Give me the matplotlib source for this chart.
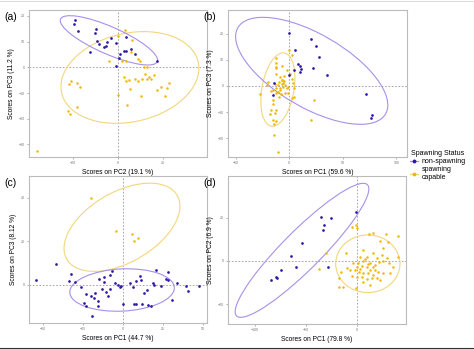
import matplotlib
matplotlib.use("Agg")
import matplotlib.pyplot as plt
from matplotlib.patches import Ellipse
from matplotlib.lines import Line2D
import numpy as np

plt.rcParams['font.family'] = ['Liberation Sans', 'DejaVu Sans']

PURPLE = '#2e1aa6'
PURPLE_ELL = '#a890e8'
YELLOW = '#f3b600'
YELLOW_ELL = '#f3d67c'

# --- panel (a): PC2 vs PC3 ---
a_non_x = [-19.3, -19.6, -17.6, -10.0, -10.4, -9.3, -8.5, -12.5, -5.1, -5.4, -6.3,
           -2.9, -0.9, 3.4, 0.7, 0.3, 2.8, 3.7, 5.7, 7.6, 17.2, -0.7]
a_non_y = [18.4, 16.9, 14.3, 14.8, 13.2, 10.3, 9.0, 6.1, 9.7, 8.3, 8.1,
           11.3, 9.4, 11.7, 5.1, 3.8, 6.4, 6.4, 7.0, 5.2, 2.5, 0.6]
a_spa_x = [2.9, 0.1, 6.3, 5.9, 8.7, 9.6, 1.8, 3.5, 11.6, 12.8, -4.1, 2.5, 3.7, 5.1,
           7.4, 10.6, 12.1, 12.8, 14.0, 14.6, 16.2, 8.7, 5.4, 10.3, 0.0, 4.0, 17.2,
           19.0, 21.9, 22.6, 20.9, -21.8, -20.7, -18.4, -16.9, -22.1, -21.3, -18.4, -36.2]
a_spa_y = [14.5, 12.0, 10.6, 5.8, 3.2, 2.6, 2.6, 2.6, 0.3, 0.3, 2.5, -3.6, -5.2, -4.9,
           -4.7, -4.5, -2.7, -4.4, -3.9, -4.4, -3.1, -5.2, -8.6, -11.0, -10.8, -14.8, -8.8,
           -7.8, -8.2, -6.2, -11.0, -6.6, -5.3, -6.0, -7.8, -17.0, -18.2, -15.3, -32.5]

# --- panel (b): PC1 vs PC3 ---
b_non_x = [0.0, 20.0, 25.0, 5.3, 27.8, 7.8, 10.3, 10.9, 10.3, 4.7, 21.9, 35.3,
           0.0, -14.4, 71.9, 77.2, 76.3, -15.6]
b_non_y = [20.4, 17.8, 15.3, 13.9, 10.9, 8.2, 7.5, 6.6, 5.4, 6.0, 7.0, 4.1,
           4.1, 1.1, -3.1, -11.0, -12.1, -3.6]
b_spa_x = [-11.9, -7.2, -11.9, -8.75, -2.5, 0.6, -4.7, -7.2, -10.3, -5.6, -8.75, -2.5,
           -4.1, -11.9, -15.6, -12.5, -9.4, -6.6, -27.5, -20.6, -15.0, -15.6, -9.4, 2.2,
           -0.9, -16.6, -12.5, -13.4, -17.5, -15.0, -12.5, -14.4, -0.9, -11.9, 0.0, 2.2,
           -11.9, 23.4, 20.0, -14.0, -10.9, 4.7, -12.5, -19.7, -17.2, -6.6, -4.7, 3.1,
           4.4, 2.8, -13.0, -9.0, -6.0, -3.5, -10.5, -7.8]
b_spa_y = [7.0, 7.5, 4.7, 3.4, 6.0, 4.7, 1.9, 0.9, 0.3, -0.4, -1.7, -1.0,
           -2.9, -2.7, -1.4, -1.0, 1.5, 2.3, -3.2, 0.3, -5.5, -6.8, -4.2, -4.5,
           -2.9, -9.3, -9.1, -10.3, -10.9, -12.9, -13.4, -14.4, -0.6, 8.8, 13.9, 11.7,
           10.5, -5.5, -12.9, -18.9, -25.3, -4.2, 7.3, 1.5, -1.9, 2.2, 3.7, 1.1,
           -0.8, 2.8, 0.8, -0.8, 1.0, 0.4, -2.2, -3.0]

# --- panel (c): PC1 vs PC3 ---
c_non_x = [-54.6, -42.1, -32.7, -34.0, -30.2, -26.5, -23.3, -24.4, -23.3, -19.8, -17.7,
           -18.1, -15.6, -16.0, -19.2, -15.0, -12.1, -11.9, -12.9, -10.8, -9.4, -8.3,
           -6.7, -8.3, -5.2, -3.1, -2.1, -1.5, 0.0, 4.2, 6.3, 7.9, 10.4, 11.0, 7.9, 6.9,
           14.6, 13.1, 11.5, 15.2, 17.1, 18.8, 19.2, 20.4, 23.5, 26.7, 28.1, 27.7, 30.2,
           33.3, 39.2, 40.6, 47.3]
c_non_y = [2.0, 9.6, 4.9, 1.8, 1.1, -1.2, -4.3, -8.4, -9.9, -5.0, -3.8,
           -6.1, -7.3, -9.9, -14.2, 2.7, 3.4, 1.3, -2.0, -3.5, -5.0, -2.0,
           6.1, 4.4, 0.8, -0.3, -1.1, -0.5, -8.7, 0.8, -1.2, 1.5, 4.1, 2.3, -8.7, -8.7,
           -2.3, -3.8, -8.9, -9.2, -9.9, 0.8, 0.0, 6.9, -0.5, 2.6, 6.0, 2.3, -6.9,
           0.8, -0.5, -3.1, -0.5]
c_spa_x = [-19.8, -4.6, 5.8, 6.9, 9.0]
c_spa_y = [40.0, 24.7, 23.2, 20.2, 21.4]

# --- panel (d): PC1 vs PC2 ---
d_non_x = [-0.7, -35.1, -24.6, -31.8, -32.8, -53.1, -64.6, -59.0, -73.8, -78.7, -78.0,
           -83.6, -27.9]
d_non_y = [22.6, 20.6, 19.8, 16.7, 14.4, 8.5, 2.3, -2.6, -4.2, -7.6, -7.9,
           -8.8, -2.6]
d_spa_x = [-0.7, 0.7, -4.9, 12.5, 15.7, 28.9, 41.0, 23.0, 31.1, -10.5, 6.6, 16.4, 26.2,
           24.6, 3.3, 9.8, 19.7, 22.3, 26.2, 32.1, 6.6, 13.1, 1.6, 4.9, 9.8, 16.4, -3.3,
           -9.8, -6.6, -1.6, 2.6, 6.6, 11.5, 16.4, 21.3, 25.6, 32.8, -4.9, 0.0, 4.9, 9.8,
           14.8, 19.7, -14.8, -17.0, -13.1, -0.7, 6.6, 13.1, 23.0, 0.0, 13.1, 18.0, 29.5,
           36.1, 41.0, -30.0, -36.7, -17.4, 8.0, 11.0, 18.5, 3.0]
d_spa_y = [16.7, 15.2, 16.0, 12.6, 13.2, 12.6, 11.6, 9.5, 9.0, 3.9, 5.1, 3.9, 5.9,
           2.8, 2.0, 2.0, 1.2, -0.3, 0.2, -1.1, 0.2, -0.8, -1.1, -2.3, -2.6, -2.6, -0.8,
           -3.4, -4.2, -4.2, -5.0, -5.4, -5.7, -6.5, -5.0, -5.4, -5.7, -7.0, -7.3, -7.6, -8.5,
           -8.1, -8.1, -5.0, -8.1, -11.9, -12.7, -9.8, -11.2, -8.8, -2.6, -4.2, -4.2, 1.2,
           -2.6, 2.0, 3.9, -3.9, -11.9, 0.8, -1.5, -1.8, -3.5]

# ellipses: centre x, centre y, half x-extent, half y-extent, correlation
ell_a = {'non': (-4.05, 10.5, 21.65, 9.6, -0.80), 'spa': (5.3, -3.95, 30.7, 17.85, 0.20)}
ell_b = {'non': (21.0, 5.75, 71.1, 20.45, -0.64), 'spa': (-10.6, -1.4, 15.95, 14.05, 0.31)}
ell_c = {'non': (-0.7, -2.45, 32.6, 9.75, 0.10), 'spa': (-0.75, 26.35, 36.15, 20.25, 0.48)}
ell_d = {'non': (-53.45, 4.95, 65.55, 31.15, 0.916), 'spa': (11.1, -1.3, 31.5, 13.4, 0.0)}


def add_ellipse(ax, params, color):
    cx, cy, hx, hy, r = params
    cov = np.array([[hx * hx, r * hx * hy], [r * hx * hy, hy * hy]])
    vals, vecs = np.linalg.eigh(cov)
    ang = np.degrees(np.arctan2(vecs[1, 1], vecs[0, 1]))
    ax.add_patch(Ellipse((cx, cy), 2 * np.sqrt(vals[1]), 2 * np.sqrt(vals[0]), angle=ang,
                         fill=False, edgecolor=color, lw=0.8))


def panel(rect, label, nx, ny, sx, sy, ells, xlim, ylim, xticks, yticks, xlab, ylab):
    ax = fig.add_axes(rect)
    ax.axhline(0, color='#999999', ls=(0, (2, 2)), lw=0.6, zorder=0)
    ax.axvline(0, color='#999999', ls=(0, (2, 2)), lw=0.6, zorder=0)
    add_ellipse(ax, ells['spa'], YELLOW_ELL)
    add_ellipse(ax, ells['non'], PURPLE_ELL)
    ax.scatter(sx, sy, s=3.2, color=YELLOW, lw=0, zorder=3)
    ax.scatter(nx, ny, s=3.8, color=PURPLE, lw=0, zorder=4)
    ax.set_xlim(xlim)
    ax.set_ylim(ylim)
    ax.set_xticks(xticks)
    ax.set_yticks(yticks)
    ax.tick_params(labelsize=2.6, colors='#777777', length=1.5, width=0.4, pad=1.5)
    for s in ax.spines.values():
        s.set_color('#bbbbbb')
        s.set_linewidth(0.8)
    ax.set_xlabel(xlab, fontsize=4.8, labelpad=3)
    ax.set_ylabel(ylab, fontsize=4.8, labelpad=3)
    fig.text(rect[0] - 0.052, rect[1] + rect[3] - 0.03, label, fontsize=7.5)
    return ax


fig = plt.figure(figsize=(4.74, 3.49), dpi=100)

panel([0.0612, 0.5501, 0.3755, 0.4212], '(a)', a_non_x, a_non_y, a_spa_x, a_spa_y, ell_a,
      (-39.6, 39.6), (-34.9, 22.3), [-20, 0, 20], [-30, -20, -10, 0, 10, 20],
      'Scores on PC2 (19.1 %)', 'Scores on PC3 (11.2 %)')
panel([0.481, 0.5501, 0.3776, 0.4212], '(b)', b_non_x, b_non_y, b_spa_x, b_spa_y, ell_b,
      (-57.2, 110), (-27.2, 29), [-50, 0, 50, 100], [-20, -10, 0, 10, 20],
      'Scores on PC1 (59.6 %)', 'Scores on PC3 (7.3 %)')
panel([0.0612, 0.0745, 0.3755, 0.4212], '(c)', c_non_x, c_non_y, c_spa_x, c_spa_y, ell_c,
      (-58.75, 52.3), (-17.6, 49.9), [-50, -25, 0, 25, 50], [0, 20, 40],
      'Scores on PC1 (44.7 %)', 'Scores on PC3 (8.12 %)')
panel([0.481, 0.0716, 0.3755, 0.4241], '(d)', d_non_x, d_non_y, d_spa_x, d_spa_y, ell_d,
      (-126, 48.5), (-29.3, 39.5), [-100, -50, 0], [-20, 0, 20],
      'Scores on PC1 (79.8 %)', 'Scores on PC2 (6.9 %)')

handles = [Line2D([0], [0], color=PURPLE_ELL, lw=0.9, marker='o', markersize=1.8,
                  markerfacecolor=PURPLE, markeredgecolor=PURPLE),
           Line2D([0], [0], color=YELLOW_ELL, lw=0.9, marker='o', markersize=1.8,
                  markerfacecolor=YELLOW, markeredgecolor=YELLOW)]
fig.legend(handles, ['non-spawning', 'spawning\ncapable'], title='Spawning Status',
           loc='upper left', bbox_to_anchor=(0.855, 0.585), frameon=False,
           fontsize=5, title_fontsize=5, handlelength=1.2, handletextpad=0.5,
           labelspacing=0.2, borderpad=0.2)

fig.add_artist(Line2D([0, 1], [0.003, 0.003], color='#333333', lw=0.8))
fig.add_artist(Line2D([0, 1], [0.997, 0.997], color='#dddddd', lw=0.8))

fig.savefig('out.png', dpi=100)
